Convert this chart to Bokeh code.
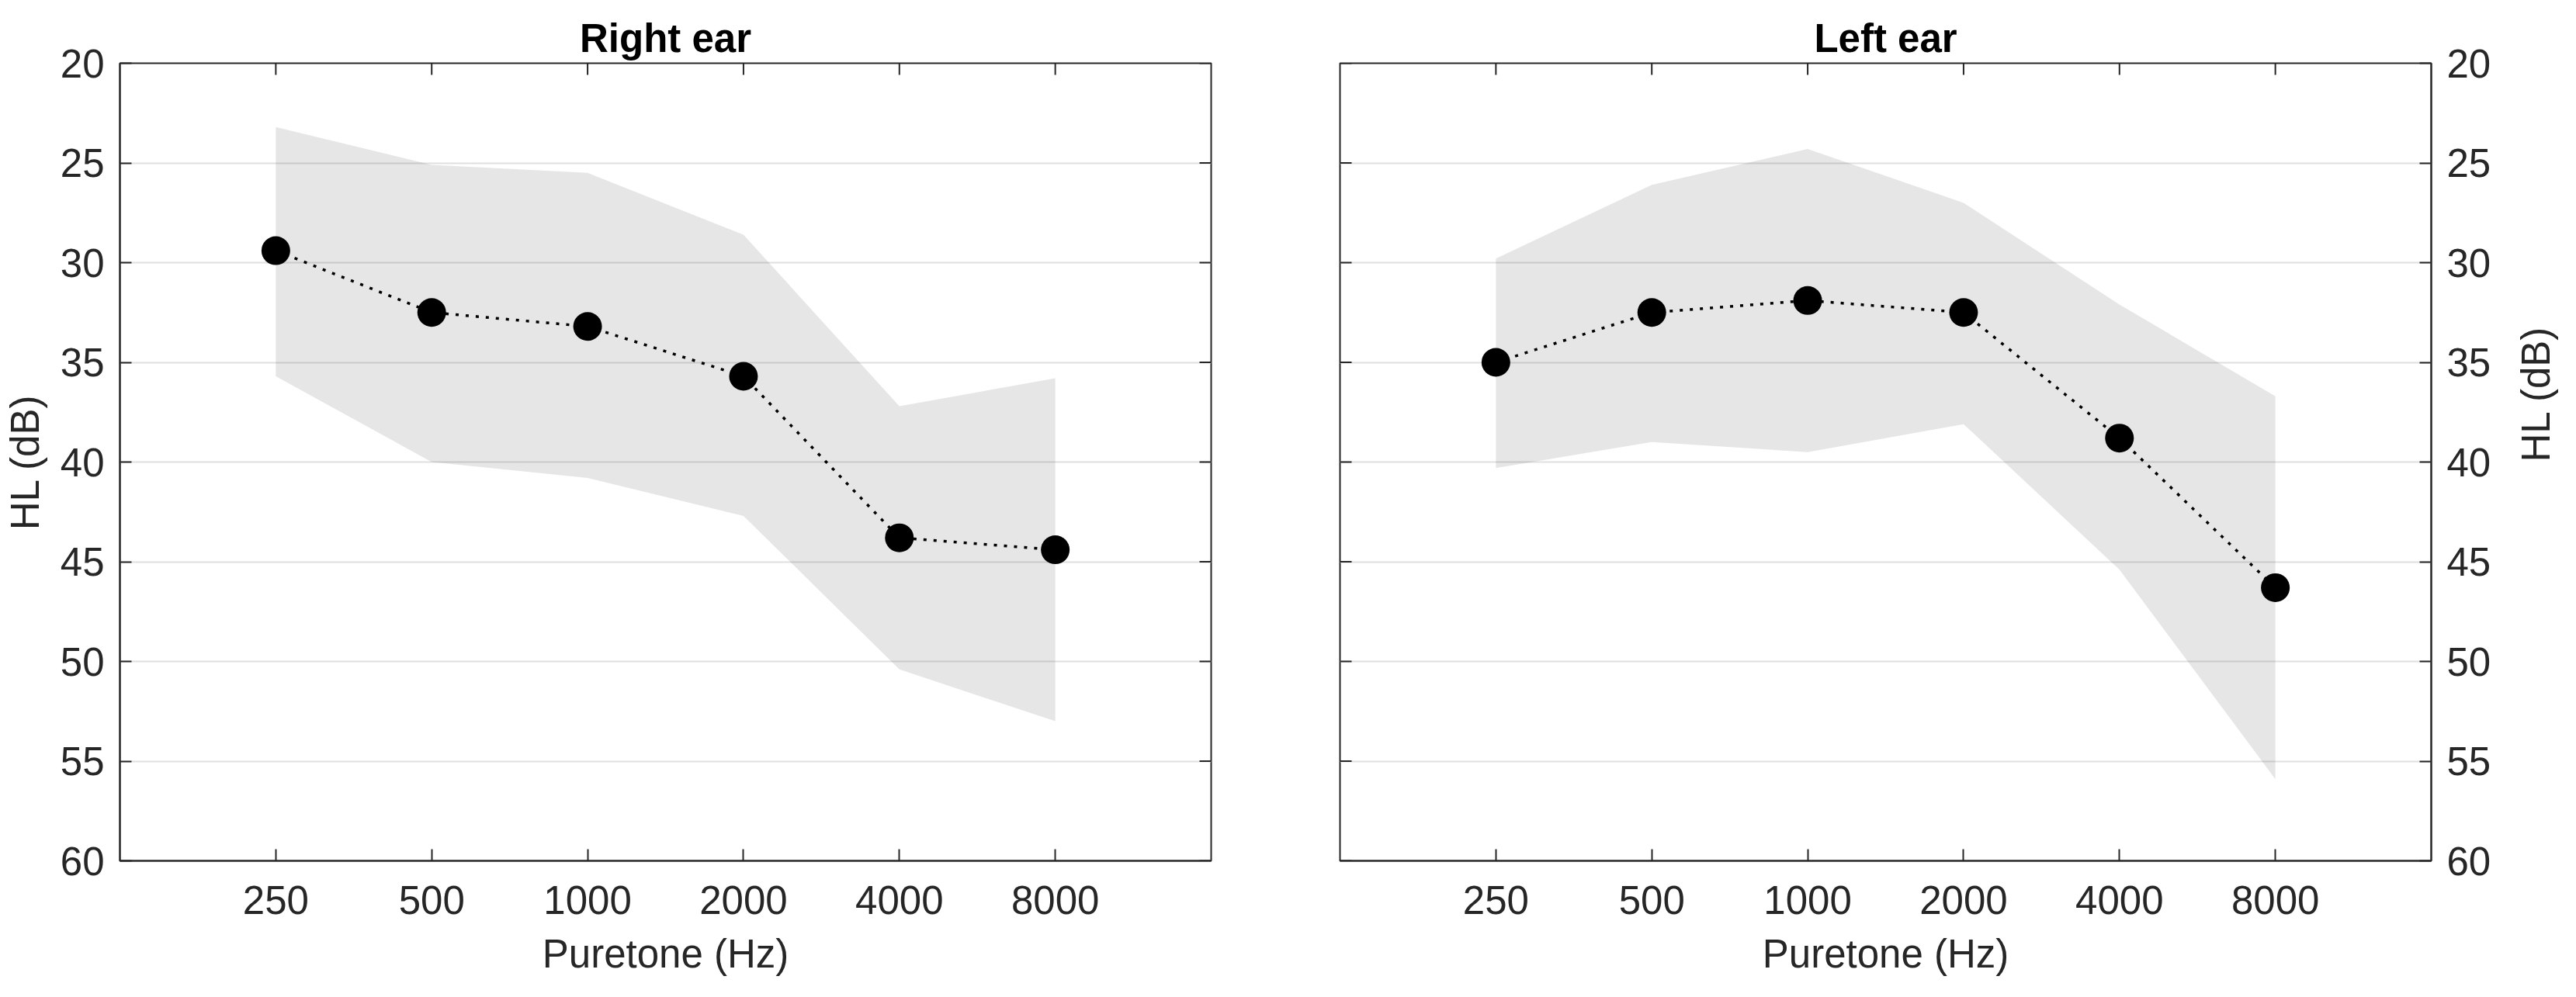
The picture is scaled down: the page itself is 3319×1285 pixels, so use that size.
import math
import numpy as np
from bokeh.plotting import figure
from bokeh.layouts import row
from bokeh.models import Range1d, FixedTicker
from bokeh.embed import file_html
from bokeh.resources import INLINE

# audiogram values (dB HL)
freqs = [250, 500, 1000, 2000, 4000, 8000]
hl_ticks = [20, 25, 30, 35, 40, 45, 50, 55, 60]

right_mean = [29.4, 32.5, 33.2, 35.7, 43.8, 44.4]
right_upper = [23.2, 25.1, 25.5, 28.6, 37.2, 35.8]
right_lower = [35.7, 40.0, 40.8, 42.7, 50.4, 53.0]

left_mean = [35.0, 32.5, 31.9, 32.5, 38.8, 46.3]
left_upper = [29.8, 26.1, 24.3, 27.0, 32.1, 36.7]
left_lower = [40.3, 39.0, 39.5, 38.1, 45.4, 55.9]

FONT = "Liberation Sans"
INK = "#262626"
X_MIN, X_MAX = 0, 7
Y_TOP, Y_BOTTOM = 20, 60

# octave position of each frequency, 250 Hz -> 1
xpos = list(np.log2(np.array(freqs) / 125.0))
tick_x = [int(round(v)) for v in xpos]
x_labels = {t: str(f) for t, f in zip(tick_x, freqs)}


def style_axis(ax):
    ax.axis_line_color = INK
    ax.axis_line_width = 2
    ax.major_tick_line_color = INK
    ax.major_tick_line_width = 2
    ax.major_tick_in = 15
    ax.major_tick_out = 0
    ax.minor_tick_line_color = None
    ax.major_label_text_font = FONT
    ax.major_label_text_color = INK
    ax.major_label_text_font_size = "51px"
    ax.axis_label_text_font = FONT
    ax.axis_label_text_font_size = "51px"
    ax.axis_label_text_font_style = "normal"
    ax.axis_label_text_color = INK


def mirror_ticks(p, side):
    # inward ticks on the top edge and on the unlabelled side
    p.ray(x=tick_x, y=[Y_TOP] * len(tick_x), length=15, length_units="screen",
          angle=-math.pi / 2, line_color=INK, line_width=2)
    edge = X_MAX if side == "left" else X_MIN
    ang = math.pi if side == "left" else 0
    p.ray(x=[edge] * len(hl_ticks), y=hl_ticks, length=15, length_units="screen",
          angle=ang, line_color=INK, line_width=2)


def make_panel(title, mean, upper, lower, side):
    p = figure(title=title, frame_width=1406, frame_height=1028,
               x_range=Range1d(X_MIN, X_MAX), y_range=Range1d(Y_BOTTOM, Y_TOP),
               y_axis_location=side, toolbar_location=None,
               output_backend="svg", background_fill_color="white",
               border_fill_color="white")
    if side == "left":
        p.min_border_left, p.min_border_right = 153, 83
    else:
        p.min_border_left, p.min_border_right = 83, 160
    p.min_border_top = 81
    p.min_border_bottom = 150

    p.title.text_font = FONT
    p.title.text_font_size = "51px"
    p.title.text_font_style = "bold"
    p.title.text_color = "black"
    p.title.align = "center"
    p.title.standoff = 8

    p.outline_line_color = INK
    p.outline_line_width = 2

    p.xaxis.ticker = FixedTicker(ticks=tick_x)
    p.xaxis.major_label_overrides = x_labels
    p.xaxis.axis_label = "Puretone (Hz)"
    p.yaxis.ticker = FixedTicker(ticks=hl_ticks)
    p.yaxis.axis_label = "HL (dB)"
    style_axis(p.xaxis[0])
    style_axis(p.yaxis[0])
    p.xaxis.major_label_standoff = 32
    p.xaxis.axis_label_standoff = 20
    p.yaxis.major_label_standoff = 20
    if side == "right":
        p.yaxis.axis_label_orientation = math.pi / 2
        p.yaxis.axis_label_standoff = 55
    else:
        p.yaxis.axis_label_standoff = 14

    p.xgrid.grid_line_color = None
    p.ygrid.ticker = FixedTicker(ticks=hl_ticks)
    p.ygrid.grid_line_color = "#e0e0e0"
    p.ygrid.grid_line_width = 2

    p.varea(x=xpos, y1=upper, y2=lower, fill_color="black", fill_alpha=0.098)
    p.line(xpos, mean, line_color="black", line_width=3.5, line_dash="4 9")
    p.scatter(xpos, mean, size=37, fill_color="black", line_color=None)
    mirror_ticks(p, side)
    return p


p_right = make_panel("Right ear", right_mean, right_upper, right_lower, "left")
p_left = make_panel("Left ear", left_mean, left_upper, left_lower, "right")

layout = row(p_right, p_left, spacing=0)
open("out.html", "w").write(file_html(layout, INLINE))
